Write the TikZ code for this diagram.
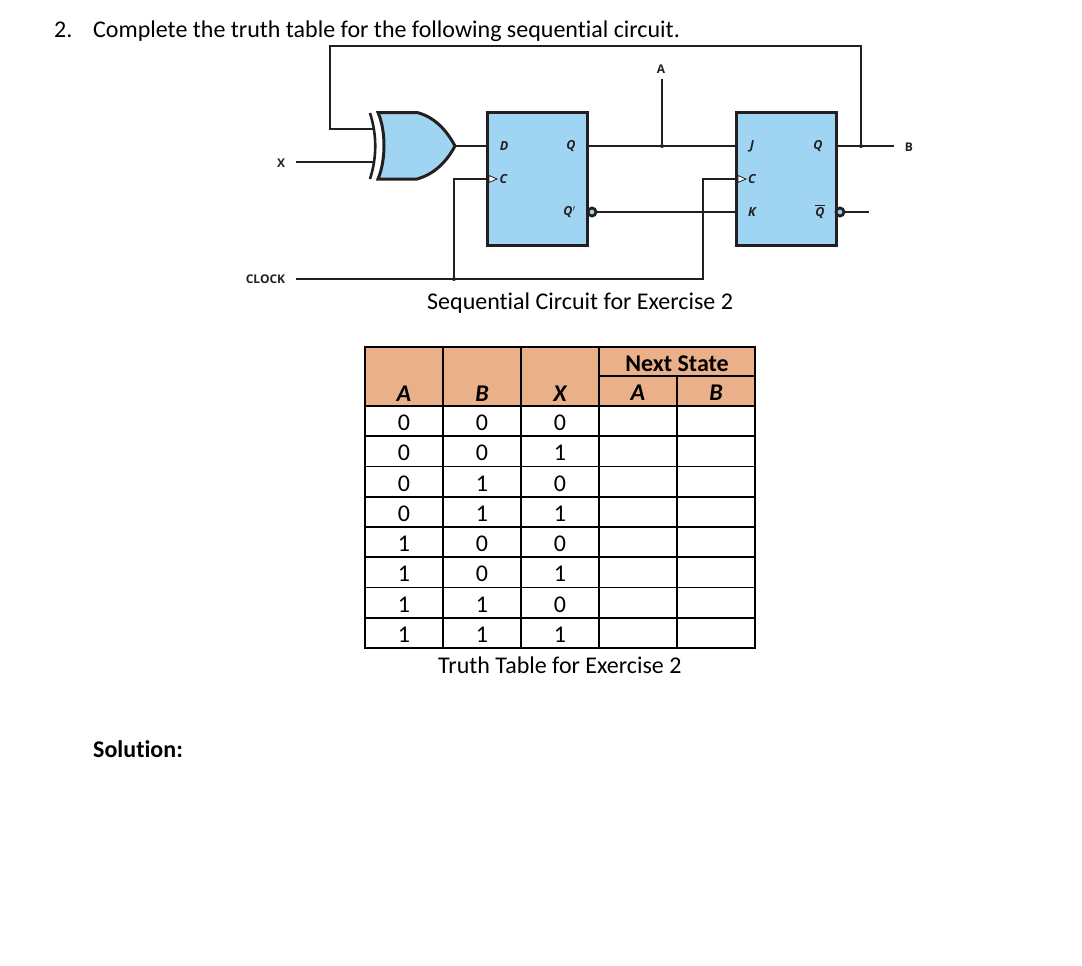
\documentclass[tikz,border=0pt]{standalone}
\usepackage{fontspec}
\setmainfont{Carlito}[Ligatures=NoCommon]
\newfontfamily\lbl{Open Sans}
\usetikzlibrary{calc}
\definecolor{ink}{HTML}{231F20}
\definecolor{blue}{HTML}{9FD5F3}
\definecolor{head}{HTML}{E9B08A}
\tikzset{
 x=1pt,y=-1pt,
 wire/.style={draw=ink,line width=1.1pt},
 ff/.style={draw=ink,fill=blue,line width=3pt,minimum width=99.5pt,minimum height=133pt,inner sep=0pt,outer sep=0pt},
 pin/.style={font=\lbl\fontsize{12.5}{13}\selectfont\bfseries\itshape,text=ink,inner sep=0pt},
 tag/.style={font=\lbl\fontsize{12}{12}\selectfont\bfseries,text=ink,inner sep=0pt},
 body/.style={font=\fontsize{24}{25}\selectfont,text=black,inner sep=0pt,anchor=base west},
 dotj/.style={circle,fill=ink,inner sep=0pt,minimum size=4pt},
 bubble/.style={circle,draw=ink,fill=blue,line width=2.8pt,minimum size=8pt,inner sep=0pt},
 cellb/.style={draw=black,line width=1.7pt,inner sep=0pt,outer sep=0pt,font=\fontsize{24}{25}\selectfont,text height=19pt,text depth=0pt},
 cellh/.style={cellb,fill=head,font=\fontsize{24}{25}\selectfont\bfseries},
 headi/.style={font=\fontsize{24}{25}\selectfont\bfseries\itshape,inner sep=0pt},
}
\begin{document}
\begin{tikzpicture}
\useasboundingbox (0,0) rectangle (1082,966);
% page text
\node[body] (num) at (54,38) {2.};
\node[body] (title) at (93,38) {Complete the truth table for the following sequential circuit.};
\node[body] (cap1) at (427,309) {Sequential Circuit for Exercise 2};
\node[body] (cap2) at (438,673) {Truth Table for Exercise 2};
\node[body,font=\fontsize{24}{25}\selectfont\bfseries] (sol) at (93,757) {Solution:};
% terminals
\node[tag] (tx) at (281,163) {X};
\node[tag] (tclk) at (265.5,279) {CLOCK};
\node[tag] (ta) at (661,69) {A};
\node[tag] (tb) at (909,147) {B};
\coordinate (xs) at (296,162);
\coordinate (clks) at (296,279);
\coordinate (as) at (662,79);
\coordinate (bs) at (894,146);
\coordinate (qbs) at (869,212);
% flip-flops
\node[ff] (ffd) at (537.5,179) {};
\node[ff] (ffj) at (786.5,179) {};
% gate pins
\coordinate (gin1) at (373,129);
\coordinate (gin2) at (373,162);
\coordinate (gout) at (455,146);
\coordinate (dpin) at (487,146);
\coordinate (dq) at (588,146);
\coordinate (cd) at (487,179);
\coordinate (jpin) at (736,146);
\coordinate (kpin) at (736,212);
\coordinate (cj) at (736,179);
\coordinate (jq) at (836,146);
\node[dotj] (na) at (662,146) {};
\node[dotj] (nb) at (861,146) {};
\node[dotj] (nc) at (454,279) {};
\coordinate (fbl) at (330,46);
% wires
\draw[wire] (nb) -- (861,46) -- (fbl) -- (330,129) -- (gin1);
\draw[wire] (xs) -- (gin2);
\draw[wire] (gout) -- (dpin);
\draw[wire] (dq) -- (jpin);
\draw[wire] (as) -- (na);
\draw[wire] (jq) -- (bs);
\draw[wire] (clks) -- (703,279) -- (703,179) -- (cj);
\draw[wire] (nc) -- (454,179) -- (cd);
% bubbles
\node[bubble] (bq) at (592,212) {};
\node[bubble] (bj) at (840,212) {};
\draw[wire] (bq) -- (kpin);
\draw[wire] (bj) -- (qbs);
% XOR gate
\draw[draw=ink,fill=blue,line width=3pt,miter limit=2] (378,112.5) -- (417,112.5) .. controls (435,117) and (447,131) .. (455,146) .. controls (447,161) and (435,174) .. (417,179) -- (378,179) .. controls (386,160) and (386,131) .. (378,112.5) -- cycle;
\draw[draw=ink,line width=2.6pt] (370,113) .. controls (377,135) and (377,157) .. (370,179);
% clock marks
\draw[draw=ink,fill=white,line width=.8pt] (489,175.5) -- (497,179) -- (489,182.5) -- cycle;
\draw[draw=ink,fill=white,line width=.8pt] (738,175.5) -- (746,179) -- (738,182.5) -- cycle;
% pin labels
\node[pin] (ld) at (504,146.5) {D};
\node[pin] (lq) at (571,146) {Q};
\node[pin] (lc) at (503.5,179) {C};
\node[pin] (lqp) at (569.5,212) {Q$'$};
\node[pin] (lj) at (752,146) {J};
\node[pin] (lq2) at (818,146) {Q};
\node[pin] (lc2) at (752,179) {C};
\node[pin] (lk) at (752,212.5) {K};
\node[pin] (lqb) at (820,213) {Q};
\draw[draw=ink,line width=.9pt] (815,205) -- (825,205);
% table
\node[cellh,minimum width=78pt,minimum height=59pt,anchor=north west] (hA) at (365,347) {};
\node[cellh,minimum width=78pt,minimum height=59pt,anchor=north west] (hB) at (443,347) {};
\node[cellh,minimum width=78pt,minimum height=59pt,anchor=north west] (hX) at (521,347) {};
\node[cellh,minimum width=156pt,minimum height=29pt,anchor=north west] (hN) at (599,347) {Next State};
\node[cellh,minimum width=78pt,minimum height=30pt,anchor=north west,font=\fontsize{24}{25}\selectfont\bfseries\itshape] (hNA) at (599,376) {A};
\node[cellh,minimum width=78pt,minimum height=30pt,anchor=north west,font=\fontsize{24}{25}\selectfont\bfseries\itshape] (hNB) at (677,376) {B};
\node[headi] (lA) at (404,393.5) {A};
\node[headi] (lB) at (482,393.5) {B};
\node[headi] (lX) at (560,393.5) {X};
\foreach \r/\a/\b/\c in {0/0/0/0,1/0/0/1,2/0/1/0,3/0/1/1,4/1/0/0,5/1/0/1,6/1/1/0,7/1/1/1}{
  \node[cellb,minimum width=78pt,minimum height=30.25pt,anchor=north west] (a\r) at (365,406+30.25*\r) {\a};
  \node[cellb,minimum width=78pt,minimum height=30.25pt,anchor=north west] (b\r) at (443,406+30.25*\r) {\b};
  \node[cellb,minimum width=78pt,minimum height=30.25pt,anchor=north west] (c\r) at (521,406+30.25*\r) {\c};
  \node[cellb,minimum width=78pt,minimum height=30.25pt,anchor=north west] (d\r) at (599,406+30.25*\r) {};
  \node[cellb,minimum width=78pt,minimum height=30.25pt,anchor=north west] (e\r) at (677,406+30.25*\r) {};
}
\end{tikzpicture}
\end{document}
